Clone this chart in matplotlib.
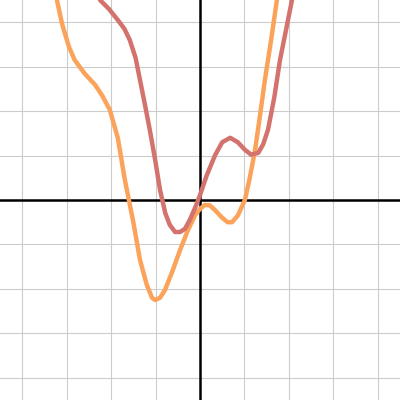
import numpy as np
import matplotlib
matplotlib.use("Agg")
import matplotlib.pyplot as plt

# points (graph units)
orange_x = [-3.22, -3.1, -2.95, -2.82, -2.6, -2.36, -2.2, -2.03, -1.85, -1.69, -1.5, -1.35, -1.2, -1.08, -1.01,
            -0.9, -0.79, -0.62, -0.45, -0.28, -0.11, 0.0, 0.11, 0.22, 0.34, 0.5, 0.62, 0.72, 0.85, 1.01,
            1.12, 1.24, 1.35, 1.46, 1.6, 1.73]
orange_y = [4.5, 3.95, 3.45, 3.15, 2.85, 2.59, 2.35, 2.03, 1.4, 0.45, -0.5, -1.35, -1.9, -2.2, -2.25,
            -2.2, -2.03, -1.6, -1.13, -0.7, -0.34, -0.2, -0.11, -0.12, -0.23, -0.4, -0.5, -0.5, -0.35, 0.0,
            0.5, 1.13, 1.9, 2.7, 3.6, 4.5]
red_x = [-2.25, -2.05, -1.85, -1.7, -1.58, -1.45, -1.35, -1.24, -1.13, -1.0, -0.9, -0.78, -0.68, -0.56,
         -0.45, -0.34, -0.23, -0.1, 0.0, 0.15, 0.34, 0.5, 0.68, 0.85, 1.01, 1.15, 1.31, 1.42, 1.53,
         1.67, 1.8, 1.94, 2.07]
red_y = [4.5, 4.3, 4.05, 3.85, 3.6, 3.2, 2.7, 2.15, 1.58, 0.85, 0.23, -0.3, -0.56, -0.72,
         -0.72, -0.65, -0.45, -0.15, 0.11, 0.55, 1.01, 1.3, 1.4, 1.3, 1.13, 1.02, 1.06, 1.25, 1.58,
         2.3, 3.15, 3.85, 4.5]

fig, ax = plt.subplots(figsize=(4, 4), dpi=100)
fig.subplots_adjust(0, 0, 1, 1)
ax.set_xlim(-4.5, 4.5)
ax.set_ylim(-4.5, 4.5)
for v in np.arange(-4, 5):
    ax.axvline(v, color="#cccccc", lw=0.8, zorder=0)
    ax.axhline(v, color="#cccccc", lw=0.8, zorder=0)
ax.axvline(0, color="black", lw=1.8, zorder=1)
ax.axhline(0, color="black", lw=1.8, zorder=1)

ax.plot(orange_x, orange_y, color="#fba35a", lw=3.2, solid_capstyle="round", zorder=2)
ax.plot(red_x, red_y, color="#d4726e", lw=3.2, solid_capstyle="round", zorder=3)

ax.set_xticks([])
ax.set_yticks([])
for s in ax.spines.values():
    s.set_visible(False)
fig.savefig("out.png")
